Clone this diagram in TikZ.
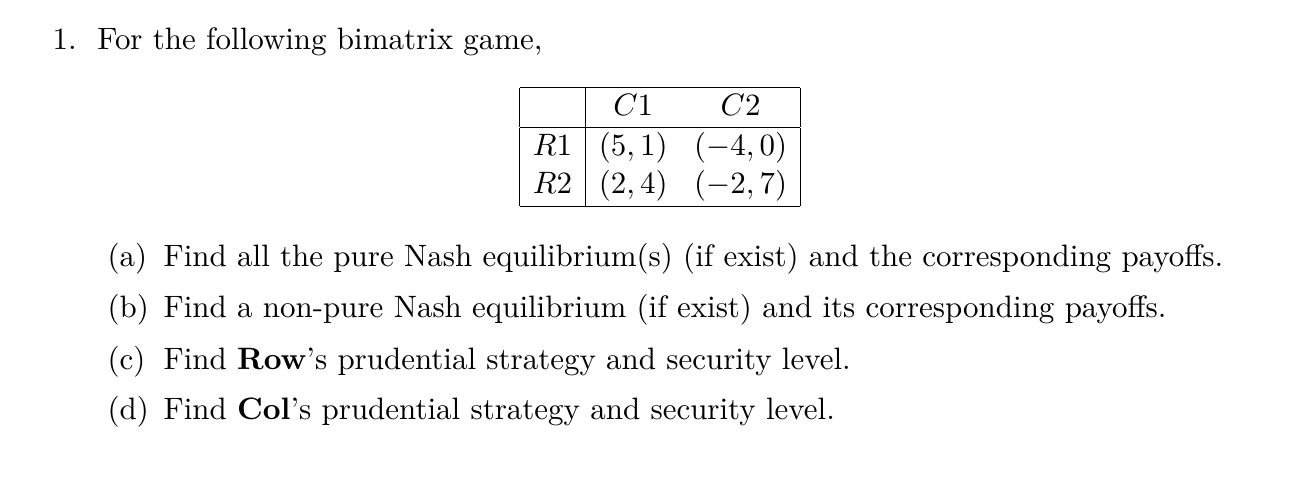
\documentclass[tikz,border=0pt]{standalone}
\begin{document}
\begin{tikzpicture}[x=0.323pt,y=-0.323pt,txt/.style={anchor=base west,inner sep=0pt}]
\useasboundingbox (0,0) rectangle (1310,486);
\node[txt] (t1) at (52,50) {1.\ \ For the following bimatrix game,};
\node[inner sep=0pt] (tab) at (660,147) {\renewcommand{\arraystretch}{1.04}\setlength{\tabcolsep}{4.3pt}\begin{tabular}{|c|cc|}\hline
 & $C1$ & $C2$\\\hline
$R1$ & $(5,1)$ & $(-4,0)$\\
$R2$ & $(2,4)$ & $(-2,7)$\\\hline\end{tabular}};
\node[txt] (la) at (107,267) {(a)};
\node[txt] (a) at (163,267) {Find all the pure Nash equilibrium(s) (if exist) and the corresponding payoffs.};
\node[txt] (lb) at (107,318) {(b)};
\node[txt] (b) at (163,318) {Find a non-pure Nash equilibrium (if exist) and its corresponding payoffs.};
\node[txt] (lc) at (107,369) {(c)};
\node[txt] (c) at (163,369) {Find \textbf{Row}'s prudential strategy and security level.};
\node[txt] (ld) at (107,420) {(d)};
\node[txt] (d) at (163,420) {Find \textbf{Col}'s prudential strategy and security level.};
\end{tikzpicture}
\end{document}
